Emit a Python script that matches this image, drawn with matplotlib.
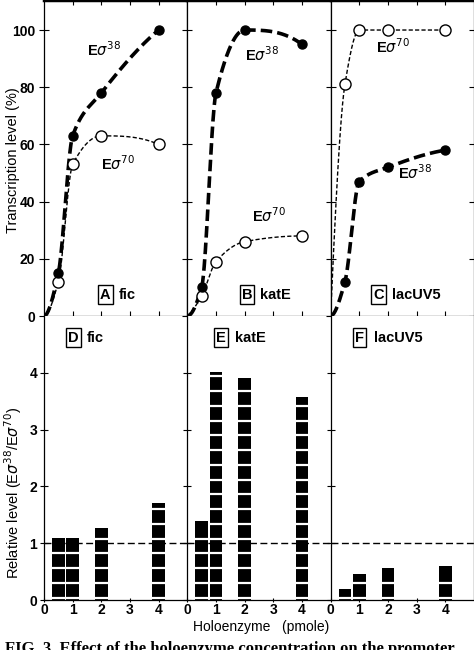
import numpy as np
import matplotlib
matplotlib.use('Agg')
import matplotlib.pyplot as plt

# ---------------------------------------------------------------
# data
# ---------------------------------------------------------------
PANELS_TOP = ['A', 'B', 'C']
PANELS_BOT = ['D', 'E', 'F']
PROMOTERS = ['fic', 'katE', 'lacUV5']

dose = [0.5, 1, 2, 4]          # holoenzyme (pmole)

# transcription level (%)
s38_fic = [15, 63, 78, 100]
s70_fic = [12, 53, 63, 60]
s38_kate = [10, 78, 100, 95]
s70_kate = [7, 19, 26, 28]
s38_lac = [12, 47, 52, 58]
s70_lac = [81, 100, 100, 100]

# relative level (Es38 / Es70)
ratio_fic = [1.09, 1.09, 1.26, 1.70]
ratio_kate = [1.39, 4.02, 3.91, 3.58]
ratio_lac = [0.20, 0.46, 0.57, 0.59]

S38 = [s38_fic, s38_kate, s38_lac]
S70 = [s70_fic, s70_kate, s70_lac]
RATIO = [ratio_fic, ratio_kate, ratio_lac]

xticks = [0, 1, 2, 3, 4]
yticks_top = [0, 20, 40, 60, 80, 100]
yticks_bot = [0, 1, 2, 3, 4]


def pchip(xk, yk, xs):
    # monotone cubic used only to draw the smooth hand-drawn-looking lines
    xk = np.asarray(xk, float)
    yk = np.asarray(yk, float)
    h = np.diff(xk)
    d = np.diff(yk) / h
    m = np.zeros_like(yk)
    for i in range(1, len(xk) - 1):
        if d[i - 1] * d[i] > 0:
            w1 = 2 * h[i] + h[i - 1]
            w2 = h[i] + 2 * h[i - 1]
            m[i] = (w1 + w2) / (w1 / d[i - 1] + w2 / d[i])
    def end(h0, h1, d0, d1):
        s = ((2 * h0 + h1) * d0 - h0 * d1) / (h0 + h1)
        if np.sign(s) != np.sign(d0):
            s = 0
        elif np.sign(d0) != np.sign(d1) and abs(s) > abs(3 * d0):
            s = 3 * d0
        return s
    m[0] = end(h[0], h[1], d[0], d[1])
    m[-1] = end(h[-1], h[-2], d[-1], d[-2])
    idx = np.clip(np.searchsorted(xk, xs) - 1, 0, len(h) - 1)
    t = (xs - xk[idx]) / h[idx]
    h00 = 2 * t**3 - 3 * t**2 + 1
    h10 = t**3 - 2 * t**2 + t
    h01 = -2 * t**3 + 3 * t**2
    h11 = t**3 - t**2
    return (h00 * yk[idx] + h10 * h[idx] * m[idx] +
            h01 * yk[idx + 1] + h11 * h[idx] * m[idx + 1])


plt.rcParams['font.family'] = ['Liberation Sans', 'DejaVu Sans']
plt.rcParams['mathtext.fontset'] = 'dejavusans'

W, H = 474, 650
fig = plt.figure(figsize=(W / 100, H / 100), dpi=100)

left_px = 44
panel_w = 143.3
top_bottom_px = 316
bot_bottom_px = 600

# label positions (data coords) for the sigma annotations
lab38 = [(1.5, 91), (2.0, 89), (2.35, 48)]
lab70 = [(2.0, 51), (2.25, 33), (1.6, 92)]
box_top = [(1.95, 7.5), (1.9, 7.5), (1.5, 7.5)]
box_bot = [(0.85, 4.62), (1.0, 4.62), (0.85, 4.62)]

tickfont = dict(fontsize=10, fontweight='bold')

for i in range(3):
    x0 = (left_px + i * panel_w) / W
    # ---------------- upper panels --------------------------------
    ax = fig.add_axes([x0, 1 - top_bottom_px / H, panel_w / W, top_bottom_px / H])
    xs = np.linspace(0, 4, 300)
    xk = [0] + dose
    ax.plot(xs, pchip(xk, [0] + S70[i], xs), color='black', lw=1.0,
            dashes=(3, 1.6), zorder=2)
    ax.plot(xs, pchip(xk, [0] + S38[i], xs), color='black', lw=2.6,
            dashes=(3.2, 1.4), zorder=3)
    ax.plot(dose, S70[i], 'o', ms=8, mfc='white', mec='black', mew=1.0, zorder=4)
    ax.plot(dose, S38[i], 'o', ms=6.5, mfc='black', mec='black', zorder=5)

    ax.text(*lab38[i], r'E$\sigma^{38}$', fontsize=10.5, fontweight='bold')
    ax.text(*lab70[i], r'E$\sigma^{70}$', fontsize=10.5, fontweight='bold')
    bx, by = box_top[i]
    ax.text(bx, by, PANELS_TOP[i], fontsize=10.5, fontweight='bold', va='center',
            bbox=dict(boxstyle='square,pad=0.15', fc='white', ec='black', lw=1.0))
    ax.text(bx + 0.65, by, PROMOTERS[i], fontsize=10.5, fontweight='bold', va='center')

    ax.set_xlim(0, 5)
    ax.set_ylim(0, 110.5)
    ax.set_xticks(xticks[1:])
    ax.set_xticklabels([])
    ax.set_yticks(yticks_top)
    if i == 0:
        ax.set_yticklabels([str(v) for v in yticks_top], **tickfont)
    else:
        ax.set_yticklabels([])
    ax.tick_params(axis='both', direction='inout', length=7, width=0.8,
                   top=True, right=(i == 2), pad=3)
    for sp in ax.spines.values():
        sp.set_linewidth(0.9)
    ax.spines['top'].set_linewidth(2.5)

    # ---------------- lower panels --------------------------------
    bh = (bot_bottom_px - top_bottom_px) / H
    axb = fig.add_axes([x0, 1 - bot_bottom_px / H, panel_w / W, bh])
    bw = 0.44
    axb.bar(dose, RATIO[i], width=bw, color='black', zorder=2)
    # white gaps between the stacked squares
    for xv, hv in zip(dose, RATIO[i]):
        gaps = np.arange(0.04, hv - 0.05, 0.26)
        axb.hlines(gaps, xv - bw / 2, xv + bw / 2, colors='white', lw=1.6, zorder=3)
    axb.axhline(1, color='black', lw=1.0, dashes=(5, 2.5), zorder=1)
    bx, by = box_bot[i]
    axb.text(bx, by, PANELS_BOT[i], fontsize=10.5, fontweight='bold', va='center',
             bbox=dict(boxstyle='square,pad=0.15', fc='white', ec='black', lw=1.0))
    axb.text(bx + 0.65, by, PROMOTERS[i], fontsize=10.5, fontweight='bold', va='center')

    axb.set_xlim(0, 5)
    axb.set_ylim(0, 5)
    axb.set_xticks(xticks)
    axb.set_xticklabels([str(v) for v in xticks], **tickfont)
    axb.set_yticks(yticks_bot)
    if i == 0:
        axb.set_yticklabels([str(v) for v in yticks_bot], **tickfont)
    else:
        axb.set_yticklabels([])
    axb.tick_params(axis='both', direction='inout', length=6, width=0.8, pad=2)
    axb.tick_params(axis='x', length=3, pad=1)
    for sp in axb.spines.values():
        sp.set_linewidth(0.9)
    axb.spines['top'].set_visible(False)
    if i < 2:
        axb.spines['right'].set_visible(False)

fig.text(13 / W, 1 - 160 / H, 'Transcription level (%)', rotation=90,
         ha='center', va='center', fontsize=10.5)
fig.text(13 / W, 1 - 493 / H, r'Relative level (E$\sigma^{38}$/E$\sigma^{70}$)',
         rotation=90, ha='center', va='center', fontsize=10.5)
fig.text(261 / W, 1 - 627 / H, 'Holoenzyme   (pmole)', ha='center', va='center',
         fontsize=10)
fig.text(5 / W, 1 - 641 / H, 'FIG. 3. Effect of the holoenzyme concentration on the promoter',
         ha='left', va='top', fontsize=12, fontweight='bold', family='Liberation Serif')

fig.savefig('out.png', dpi=100)
